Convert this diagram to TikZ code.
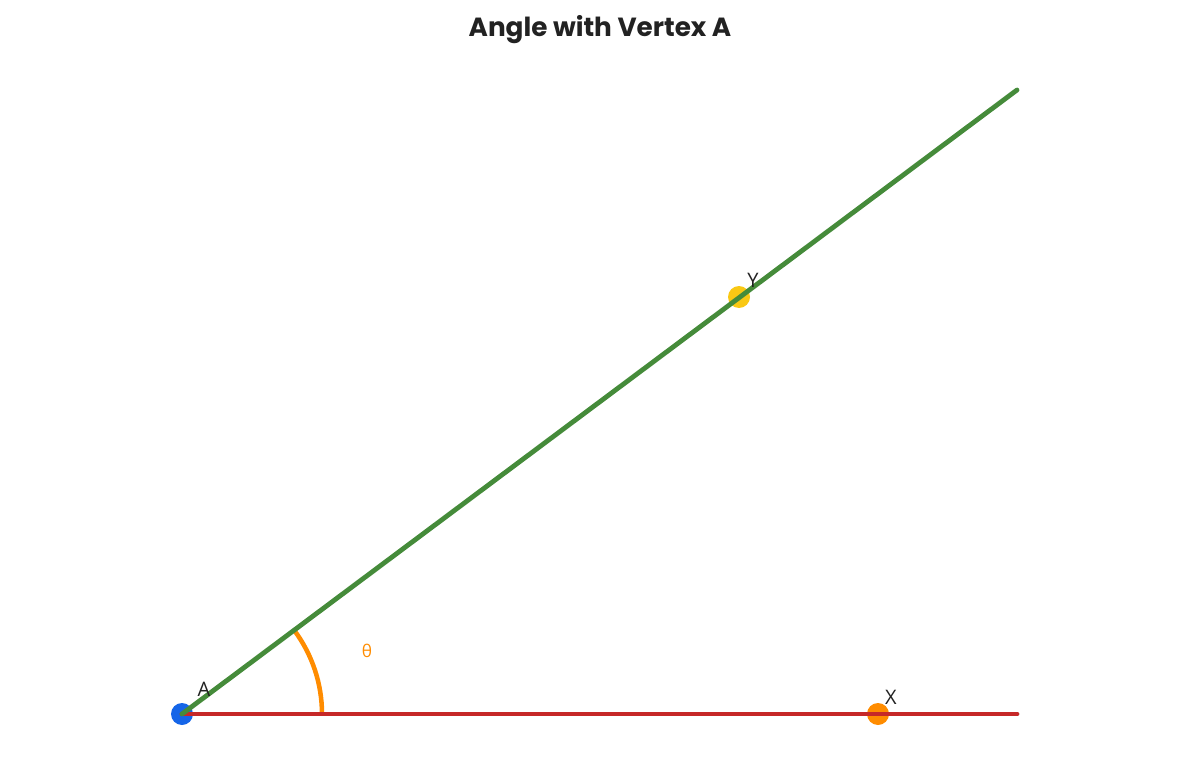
\documentclass[tikz,border=0pt]{standalone}
\usepackage{fontspec}
\setmainfont{Open Sans}
\newfontfamily\titlefont{Poppins}
\definecolor{cblue}{RGB}{21,101,232}
\definecolor{cgreen}{RGB}{69,139,58}
\definecolor{cred}{RGB}{198,40,40}
\definecolor{corange}{RGB}{255,140,0}
\definecolor{cyellow}{RGB}{249,200,20}
\definecolor{ctext}{RGB}{34,34,34}
\begin{document}
\begin{tikzpicture}[x=0.75pt,y=-0.75pt,
  dot/.style={circle,inner sep=0pt,minimum size=16.5pt},
  ray/.style={line width=3.6pt,line cap=round},
  lbl/.style={text=ctext,font=\fontsize{15}{17}\selectfont,inner sep=0pt},
]
\useasboundingbox (0,0) rectangle (1200,763);
\node[font=\titlefont\bfseries\fontsize{19.7}{22}\selectfont,text=ctext] (title) at (600,30) {Angle with Vertex A};
% points
\node[dot,fill=cblue] (A) at (182,714) {};
\node[dot,fill=corange] (X) at (878,714) {};
\node[dot,fill=cyellow] (Y) at (739,297) {};
\coordinate (G) at (1017,90);
\coordinate (R) at (1017,714);
% arc
\draw[corange,line width=3.4pt] ([shift={(0:140)}]A.center) arc[start angle=0,end angle=36.77,radius=140*0.75pt];
% rays
\draw[ray,cred] (A.center) -- (R);
\draw[ray,cgreen] (A.center) -- (G);
% labels
\node[lbl] (lA) at (204,689) {A};
\node[lbl] (lY) at (753,280) {Y};
\node[lbl] (lX) at (891,697) {X};
\node[lbl,text=corange,font=\fontsize{13}{15}\selectfont] (th) at (367,651) {θ};
\end{tikzpicture}
\end{document}
